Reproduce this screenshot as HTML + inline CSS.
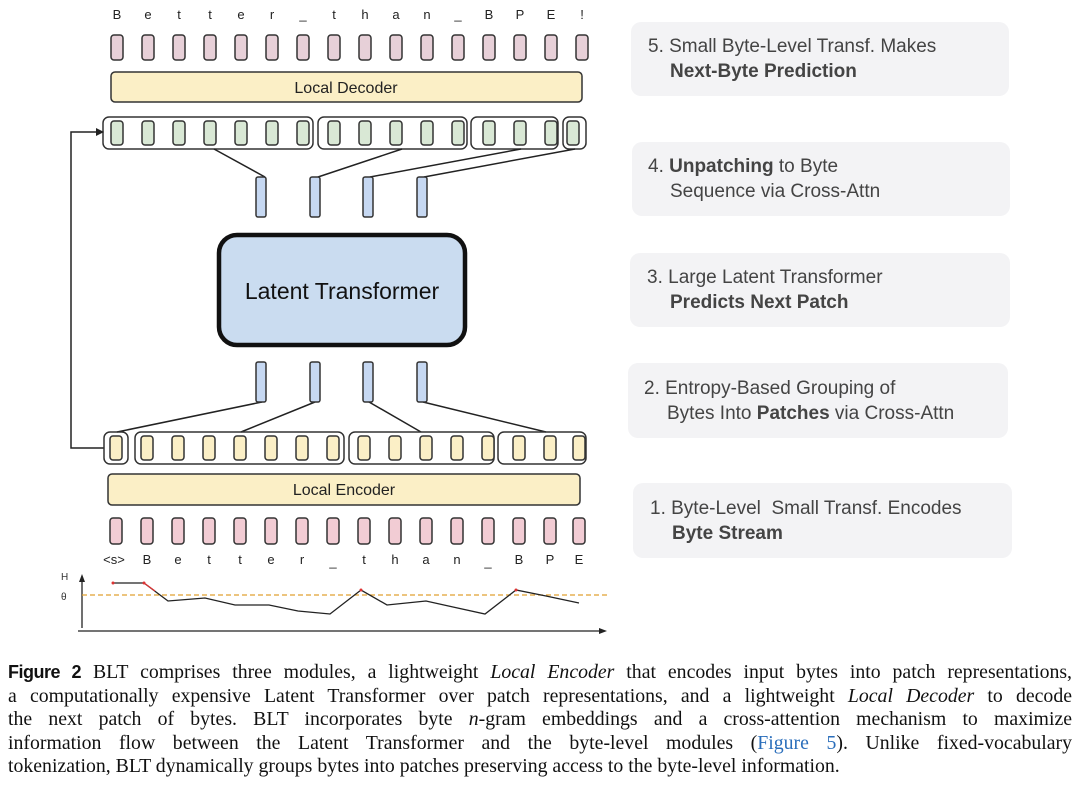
<!DOCTYPE html>
<html><head><meta charset="utf-8"><style>
body{margin:0;background:#fff;width:1080px;height:790px;overflow:hidden;position:relative;font-family:"Liberation Sans",sans-serif}
.p{position:absolute;background:#f3f3f5;border-radius:10px;color:#444;font-size:19px;line-height:25px}
.p div{white-space:nowrap}
.cap{position:absolute;left:8px;width:1064px;top:661px;font-family:"Liberation Serif",serif;font-size:19.8px;line-height:23.6px;color:#111}
.cap div{text-align:justify;text-align-last:justify;white-space:nowrap}
.cap div.l{text-align-last:left}
</style></head><body>
<svg width="1080" height="650" style="position:absolute;left:0;top:0" font-family="Liberation Sans, sans-serif">
<g font-size="13" fill="#222" text-anchor="middle">
<text x="117" y="19">B</text><text x="148" y="19">e</text><text x="179" y="19">t</text><text x="210" y="19">t</text><text x="241" y="19">e</text><text x="272" y="19">r</text><text x="303" y="19">_</text><text x="334" y="19">t</text><text x="365" y="19">h</text><text x="396" y="19">a</text><text x="427" y="19">n</text><text x="458" y="19">_</text><text x="489" y="19">B</text><text x="520" y="19">P</text><text x="551" y="19">E</text><text x="582" y="19">!</text>
</g>
<g fill="#e7d0d8" stroke="#333" stroke-width="1.5">
<rect x="111" y="35" width="12" height="25" rx="3"/><rect x="142" y="35" width="12" height="25" rx="3"/><rect x="173" y="35" width="12" height="25" rx="3"/><rect x="204" y="35" width="12" height="25" rx="3"/><rect x="235" y="35" width="12" height="25" rx="3"/><rect x="266" y="35" width="12" height="25" rx="3"/><rect x="297" y="35" width="12" height="25" rx="3"/><rect x="328" y="35" width="12" height="25" rx="3"/><rect x="359" y="35" width="12" height="25" rx="3"/><rect x="390" y="35" width="12" height="25" rx="3"/><rect x="421" y="35" width="12" height="25" rx="3"/><rect x="452" y="35" width="12" height="25" rx="3"/><rect x="483" y="35" width="12" height="25" rx="3"/><rect x="514" y="35" width="12" height="25" rx="3"/><rect x="545" y="35" width="12" height="25" rx="3"/><rect x="576" y="35" width="12" height="25" rx="3"/>
</g>
<rect x="111" y="72" width="471" height="30" rx="4" fill="#fbefc6" stroke="#333" stroke-width="1.5"/>
<text x="346" y="93" font-size="16" text-anchor="middle" fill="#222">Local Decoder</text>
<g fill="none" stroke="#333" stroke-width="1.5">
<rect x="103" y="117" width="210" height="32" rx="6"/><rect x="318" y="117" width="149" height="32" rx="6"/><rect x="471" y="117" width="87" height="32" rx="6"/><rect x="563" y="117" width="23" height="32" rx="6"/>
</g>
<g fill="#d9e8d5" stroke="#333" stroke-width="1.5">
<rect x="111" y="121" width="12" height="24" rx="3"/><rect x="142" y="121" width="12" height="24" rx="3"/><rect x="173" y="121" width="12" height="24" rx="3"/><rect x="204" y="121" width="12" height="24" rx="3"/><rect x="235" y="121" width="12" height="24" rx="3"/><rect x="266" y="121" width="12" height="24" rx="3"/><rect x="297" y="121" width="12" height="24" rx="3"/><rect x="328" y="121" width="12" height="24" rx="3"/><rect x="359" y="121" width="12" height="24" rx="3"/><rect x="390" y="121" width="12" height="24" rx="3"/><rect x="421" y="121" width="12" height="24" rx="3"/><rect x="452" y="121" width="12" height="24" rx="3"/><rect x="483" y="121" width="12" height="24" rx="3"/><rect x="514" y="121" width="12" height="24" rx="3"/><rect x="545" y="121" width="12" height="24" rx="3"/><rect x="567" y="121" width="12" height="24" rx="3"/>
</g>
<g stroke="#222" stroke-width="1.5" fill="none">
<line x1="214" y1="149" x2="265" y2="177"/><line x1="402" y1="149" x2="318" y2="177"/><line x1="521" y1="149" x2="370" y2="177"/><line x1="575" y1="149" x2="424" y2="177"/>
<line x1="262" y1="402" x2="117" y2="432"/><line x1="315" y1="402" x2="241" y2="432"/><line x1="369" y1="402" x2="421" y2="432"/><line x1="423" y1="402" x2="546" y2="432"/>
<polyline points="104,448 71,448 71,132 98,132"/>
</g>
<polygon points="104,132 96,128 96,136" fill="#222"/>
<g fill="#c6d8f2" stroke="#333" stroke-width="1.5">
<rect x="256" y="177" width="10" height="40" rx="2"/><rect x="310" y="177" width="10" height="40" rx="2"/><rect x="363" y="177" width="10" height="40" rx="2"/><rect x="417" y="177" width="10" height="40" rx="2"/>
<rect x="256" y="362" width="10" height="40" rx="2"/><rect x="310" y="362" width="10" height="40" rx="2"/><rect x="363" y="362" width="10" height="40" rx="2"/><rect x="417" y="362" width="10" height="40" rx="2"/>
</g>
<rect x="219" y="235" width="246" height="110" rx="18" fill="#cadcf0" stroke="#111" stroke-width="4.5"/>
<text x="342" y="299" font-size="23" text-anchor="middle" fill="#111">Latent Transformer</text>
<g fill="none" stroke="#333" stroke-width="1.5">
<rect x="104" y="432" width="24" height="32" rx="6"/><rect x="135" y="432" width="209" height="32" rx="6"/><rect x="349" y="432" width="145" height="32" rx="6"/><rect x="498" y="432" width="88" height="32" rx="6"/>
</g>
<g fill="#fbefc6" stroke="#333" stroke-width="1.5">
<rect x="110" y="436" width="12" height="24" rx="3"/><rect x="141" y="436" width="12" height="24" rx="3"/><rect x="172" y="436" width="12" height="24" rx="3"/><rect x="203" y="436" width="12" height="24" rx="3"/><rect x="234" y="436" width="12" height="24" rx="3"/><rect x="265" y="436" width="12" height="24" rx="3"/><rect x="296" y="436" width="12" height="24" rx="3"/><rect x="327" y="436" width="12" height="24" rx="3"/><rect x="358" y="436" width="12" height="24" rx="3"/><rect x="389" y="436" width="12" height="24" rx="3"/><rect x="420" y="436" width="12" height="24" rx="3"/><rect x="451" y="436" width="12" height="24" rx="3"/><rect x="482" y="436" width="12" height="24" rx="3"/><rect x="513" y="436" width="12" height="24" rx="3"/><rect x="544" y="436" width="12" height="24" rx="3"/><rect x="573" y="436" width="12" height="24" rx="3"/>
</g>
<rect x="108" y="474" width="472" height="31" rx="4" fill="#fbefc6" stroke="#333" stroke-width="1.5"/>
<text x="344" y="495" font-size="16" text-anchor="middle" fill="#222">Local Encoder</text>
<g fill="#f2ccd4" stroke="#333" stroke-width="1.5">
<rect x="110" y="518" width="12" height="26" rx="3"/><rect x="141" y="518" width="12" height="26" rx="3"/><rect x="172" y="518" width="12" height="26" rx="3"/><rect x="203" y="518" width="12" height="26" rx="3"/><rect x="234" y="518" width="12" height="26" rx="3"/><rect x="265" y="518" width="12" height="26" rx="3"/><rect x="296" y="518" width="12" height="26" rx="3"/><rect x="327" y="518" width="12" height="26" rx="3"/><rect x="358" y="518" width="12" height="26" rx="3"/><rect x="389" y="518" width="12" height="26" rx="3"/><rect x="420" y="518" width="12" height="26" rx="3"/><rect x="451" y="518" width="12" height="26" rx="3"/><rect x="482" y="518" width="12" height="26" rx="3"/><rect x="513" y="518" width="12" height="26" rx="3"/><rect x="544" y="518" width="12" height="26" rx="3"/><rect x="573" y="518" width="12" height="26" rx="3"/>
</g>
<g font-size="13" fill="#222" text-anchor="middle">
<text x="114" y="564">&lt;s&gt;</text><text x="147" y="564">B</text><text x="178" y="564">e</text><text x="209" y="564">t</text><text x="240" y="564">t</text><text x="271" y="564">e</text><text x="302" y="564">r</text><text x="333" y="566">_</text><text x="364" y="564">t</text><text x="395" y="564">h</text><text x="426" y="564">a</text><text x="457" y="564">n</text><text x="488" y="566">_</text><text x="519" y="564">B</text><text x="550" y="564">P</text><text x="579" y="564">E</text>
</g>
<text x="61" y="580" font-size="10" fill="#333">H</text>
<text x="61" y="600" font-size="10" fill="#333">θ</text>
<line x1="82" y1="628" x2="82" y2="580" stroke="#222" stroke-width="1.3"/>
<polygon points="82,574 79,582 85,582" fill="#222"/>
<line x1="78" y1="631" x2="600" y2="631" stroke="#222" stroke-width="1.3"/>
<polygon points="607,631 599,628 599,634" fill="#222"/>
<line x1="82" y1="595" x2="610" y2="595" stroke="#e0a030" stroke-width="1.3" stroke-dasharray="5,3"/>
<polyline points="113,583 144,583 168,601 205,598 235,605 269,605 298,611 330,614 361,590 387,605 426,601 453,607 485,614 516,590 546,596 579,603" fill="none" stroke="#222" stroke-width="1.3"/>
<polyline points="144,583 155,591" stroke="#d33" stroke-width="1.3" fill="none"/>
<circle cx="113" cy="583" r="1.5" fill="#d33"/><circle cx="144" cy="583" r="1.5" fill="#d33"/><circle cx="361" cy="590" r="1.5" fill="#d33"/><circle cx="516" cy="590" r="1.5" fill="#d33"/>
</svg>

<div class="p" style="left:631px;top:22px;width:378px;height:74px"><div style="padding:12px 0 0 17px">5. Small Byte-Level Transf. Makes</div><div style="padding-left:39px;font-weight:bold">Next-Byte Prediction</div></div>
<div class="p" style="left:632px;top:142px;width:378px;height:74px"><div style="padding:12px 0 0 16px">4. <b>Unpatching</b> to Byte</div><div style="padding-left:38px">Sequence via Cross-Attn</div></div>
<div class="p" style="left:630px;top:253px;width:380px;height:74px"><div style="padding:12px 0 0 17px">3. Large Latent Transformer</div><div style="padding-left:40px;font-weight:bold">Predicts Next Patch</div></div>
<div class="p" style="left:628px;top:363px;width:380px;height:75px"><div style="padding:13px 0 0 16px">2. Entropy-Based Grouping of</div><div style="padding-left:39px">Bytes Into <b>Patches</b> via Cross-Attn</div></div>
<div class="p" style="left:633px;top:483px;width:379px;height:75px"><div style="padding:13px 0 0 17px">1. Byte-Level&nbsp; Small Transf. Encodes</div><div style="padding-left:39px;font-weight:bold">Byte Stream</div></div>

<div class="cap">
<div><b style="font-family:'Liberation Sans',sans-serif;font-size:18px;letter-spacing:-0.5px">Figure 2</b>&nbsp;BLT comprises three modules, a lightweight <i>Local Encoder</i> that encodes input bytes into patch representations,</div>
<div>a computationally expensive Latent Transformer over patch representations, and a lightweight <i>Local Decoder</i> to decode</div>
<div>the next patch of bytes. BLT incorporates byte <i>n</i>-gram embeddings and a cross-attention mechanism to maximize</div>
<div>information flow between the Latent Transformer and the byte-level modules (<span style="color:#2a6ebb">Figure 5</span>). Unlike fixed-vocabulary</div>
<div class="l">tokenization, BLT dynamically groups bytes into patches preserving access to the byte-level information.</div>
</div>
</body></html>
